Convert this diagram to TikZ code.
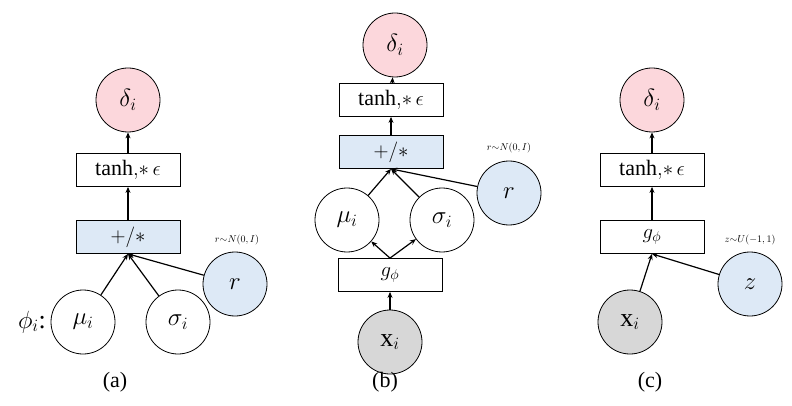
\documentclass[tikz,border=0pt]{standalone}
\usepackage{fontspec}
\setmainfont{Liberation Serif}
\usetikzlibrary{arrows.meta}
\begin{document}
\begin{tikzpicture}[x=1pt,y=-1pt,
  circ/.style={circle,draw,line width=0.8pt,minimum size=64pt,inner sep=0pt,font=\fontsize{26}{28}\selectfont},
  red/.style={circ,fill={rgb,255:red,252;green,215;blue,220}},
  blue/.style={circ,fill={rgb,255:red,221;green,233;blue,246}},
  gray/.style={circ,fill={rgb,255:red,215;green,215;blue,215}},
  box/.style={draw,line width=0.8pt,minimum width=104pt,minimum height=33pt,inner sep=0pt,font=\fontsize{22}{24}\selectfont},
  bbox/.style={box,fill={rgb,255:red,221;green,233;blue,246}},
  arr/.style={-{Stealth[length=6pt,width=5pt]},line width=1.2pt},
  lab/.style={font=\fontsize{10}{12}\selectfont},
  captxt/.style={font=\fontsize{22}{24}\selectfont}]
\useasboundingbox (0,0) rectangle (792,406);
% (a)
\node[red] (ad) at (128,100) {$\delta_i$};
\node[box] (at) at (128,170) {$\tanh,\!*\,\epsilon$};
\node[bbox] (ap) at (128,237) {$+/*$};
\node[blue] (ar) at (235,284) {$r$};
\node[lab] (arl) at (237,240) {$r{\sim}N(0,I)$};
\node[circ] (am) at (83,322) {$\mu_i$};
\node[circ] (as) at (178,322) {$\sigma_i$};
\node[font=\fontsize{26}{28}\selectfont] (aphi) at (32,322) {$\phi_i$:};
\node[captxt] (ac) at (115,382) {(a)};
\draw[arr] (at) -- (ad);
\draw[arr] (ap) -- (at);
\draw[arr] (am) -- (ap.south);
\draw[arr] (as) -- (ap.south);
\draw[arr] (ar) -- (ap.south);
% (b)
\node[red] (bd) at (395,45) {$\delta_i$};
\node[box] (bt) at (391,100) {$\tanh,\!*\,\epsilon$};
\node[bbox] (bp) at (391,152) {$+/*$};
\node[blue] (br) at (509,193) {$r$};
\node[lab] (brl) at (509,148) {$r{\sim}N(0,I)$};
\node[circ] (bm) at (347,220) {$\mu_i$};
\node[circ] (bs) at (442,220) {$\sigma_i$};
\node[box] (bg) at (390,275) {$g_\phi$};
\node[gray] (bx) at (390,342) {$\mathrm{x}_i$};
\node[captxt] (bc) at (385,382) {(b)};
\draw[arr] (bt) -- (bd);
\draw[arr] (bp) -- (bt);
\draw[arr] (bm) -- (bp.south);
\draw[arr] (bs) -- (bp.south);
\draw[arr] (br) -- (bp.south);
\draw[arr] (bg.north) -- (bm);
\draw[arr] (bg.north) -- (bs);
\draw[arr] (bx) -- (bg);
% (c)
\node[red] (cd) at (652,100) {$\delta_i$};
\node[box] (ct) at (652,170) {$\tanh,\!*\,\epsilon$};
\node[box] (cg) at (652,237) {$g_\phi$};
\node[blue] (cz) at (750,284) {$z$};
\node[lab] (czl) at (750,240) {$z{\sim}U(-1,1)$};
\node[gray] (cx) at (630,322) {$\mathrm{x}_i$};
\node[captxt] (cc) at (650,382) {(c)};
\draw[arr] (ct) -- (cd);
\draw[arr] (cg) -- (ct);
\draw[arr] (cx) -- (cg.south);
\draw[arr] (cz) -- (cg.south);
\end{tikzpicture}
\end{document}
